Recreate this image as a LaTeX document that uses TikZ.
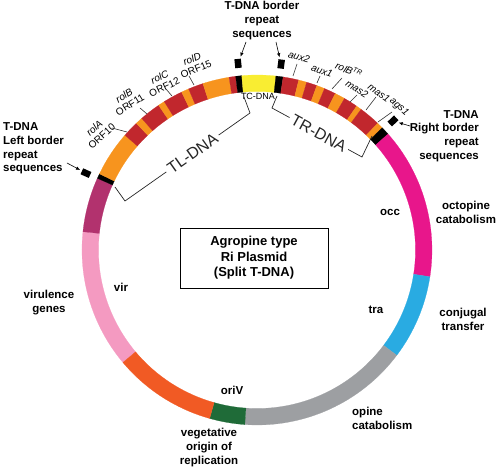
\documentclass[tikz,border=0pt]{standalone}
\usepackage{fontspec}
\setmainfont{Liberation Sans}
\usepackage{tikz}
\usetikzlibrary{arrows.meta}

\definecolor{tlorange}{RGB}{247,148,30}
\definecolor{tlred}{RGB}{193,39,45}
\definecolor{tcyellow}{RGB}{249,237,50}
\definecolor{occpink}{RGB}{232,22,139}
\definecolor{trablue}{RGB}{41,171,226}
\definecolor{opgray}{RGB}{157,159,162}
\definecolor{origreen}{RGB}{31,107,56}
\definecolor{vegorange}{RGB}{241,90,36}
\definecolor{virpink}{RGB}{244,154,193}
\definecolor{lbpurple}{RGB}{178,50,110}

% one coloured piece of the ring, from angle #2 to angle #3
\newcommand{\ringpart}[3]{%
  \fill[#1, draw=#1, line width=0.2pt] (#2:175pt) arc[start angle=#2, end angle=#3, radius=175pt]
    -- (#3:158.5pt) arc[start angle=#3, end angle=#2, radius=158.5pt] -- cycle;}

\begin{document}
\begin{tikzpicture}[x=1pt,y=1pt]
   \tikzstyle{note}=[font=\fontsize{11.5}{13.8}\selectfont\bfseries, inner sep=0pt]
   \tikzstyle{gene}=[font=\fontsize{10}{11}\selectfont, align=center, inner sep=0pt]
   \tikzstyle{borderbox}=[fill=black, minimum width=6.5pt, minimum height=9pt, inner sep=0pt]
   \tikzstyle{leader}=[line width=0.6pt, black!80]
   \tikzstyle{pointer}=[line width=0.6pt, -{Latex[length=4pt, width=3.5pt]}, shorten >=2pt]
   \tikzstyle{bracket}=[line width=0.7pt, black!85]
   \tikzstyle{region}=[sloped, fill=white, inner sep=3pt, font=\fontsize{16}{18}\selectfont]

   \useasboundingbox (-257,-218) rectangle (239,250);

   % the ring
   \ringpart{virpink}{-140}{-186}
   \ringpart{lbpurple}{174}{155.8}
   \ringpart{black}{155.8}{154.2}
   \ringpart{tlorange}{154.2}{139}
   \ringpart{tlred}{139}{133.6}
   \ringpart{tlorange}{133.6}{131.2}
   \ringpart{tlred}{131.2}{124.2}
   \ringpart{tlorange}{124.2}{122}
   \ringpart{tlred}{122}{115.5}
   \ringpart{tlorange}{115.5}{113}
   \ringpart{tlred}{113}{108}
   \ringpart{tlorange}{108}{99.2}
   \ringpart{tlred}{99.2}{97}
   \ringpart{black}{97}{95}
   \ringpart{tcyellow}{95}{83.8}
   \ringpart{black}{83.8}{81.4}
   \ringpart{tlred}{81.4}{76.2}
   \ringpart{tlorange}{76.2}{73.5}
   \ringpart{tlred}{73.5}{70}
   \ringpart{tlorange}{70}{67.3}
   \ringpart{tlred}{67.3}{63.4}
   \ringpart{tlorange}{63.4}{60}
   \ringpart{tlred}{60}{55.3}
   \ringpart{tlorange}{55.3}{53.5}
   \ringpart{tlred}{53.5}{46.4}
   \ringpart{tlorange}{46.4}{44.3}
   \ringpart{black}{44.3}{41.5}
   \ringpart{occpink}{41.5}{-8.8}
   \ringpart{trablue}{-8.8}{-37}
   \ringpart{opgray}{-37}{-94}
   \ringpart{origreen}{-94}{-105.7}
   \ringpart{vegorange}{-105.7}{-140}

   % border repeats
   \node[borderbox, rotate=65.8] (bord l) at (155.8:187.5pt) {};
   \node[borderbox, rotate=5.8] (bord tl) at (95.8:187.5pt) {};
   \node[borderbox, rotate=-7.4] (bord tr) at (82.6:187.5pt) {};
   \node[borderbox, rotate=-46.5] (bord r) at (43.5:187.5pt) {};

   \node[note, align=center] (top note) at (5,229.5) {T-DNA border\\repeat\\sequences};
   \node[note, align=left, anchor=west] (left note) at (-254,101.5) {T-DNA\\Left border\\repeat\\sequences};
   \node[note, align=right, anchor=east] (right note) at (222,114) {T-DNA\\Right border\\repeat\\sequences};

   \coordinate (top l) at (-11,208);
   \coordinate (top r) at (19,208);
   \coordinate (left p) at (-190,87);
   \coordinate (right p) at (153,124);
   \draw[pointer] (top l) -- (bord tl);
   \draw[pointer] (top r) -- (bord tr);
   \draw[pointer] (left p) -- (bord l);
   \draw[pointer] (right p) -- (bord r);

   % genes of the T-DNA
   \node[gene, rotate=42] (rolA) at (-159,118) {\textit{rolA}\\ORF10};
   \node[gene, rotate=32] (rolB) at (-130,150) {\textit{rolB}\\ORF11};
   \node[gene, rotate=25] (rolC) at (-95,168) {\textit{rolC}\\ORF12};
   \node[gene, rotate=22] (rolD) at (-63,186) {\textit{rolD}\\ORF15};
   \node[gene, rotate=-17] (aux2) at (42,193) {\textit{aux2}};
   \node[gene, rotate=-20] (aux1) at (65,179) {\textit{aux1}};
   \node[gene, rotate=-22] (rolBTR) at (92,180) {\textit{rolB}\textsuperscript{\textit{TR}}};
   \node[gene, rotate=-33] (mas2) at (100,161) {\textit{mas2}};
   \node[gene, rotate=-36] (mas1) at (122,157) {\textit{mas1}};
   \node[gene, rotate=-42] (ags1) at (142,143) {\textit{ags1}};

   \coordinate (rolA r) at (-130,118);  \coordinate (rolA t) at (-145,122);
   \coordinate (rolB r) at (-110,136);  \coordinate (rolB t) at (-117,142);
   \coordinate (rolC r) at (-85,154);   \coordinate (rolC t) at (-91,161);
   \coordinate (rolD r) at (-63,165);   \coordinate (rolD t) at (-68,174);
   \coordinate (aux2 r) at (36,174);    \coordinate (aux2 t) at (40,186);
   \coordinate (aux1 r) at (60,167);    \coordinate (aux1 t) at (63,174);
   \coordinate (rolBTR r) at (75,161);  \coordinate (rolBTR t) at (85,172);
   \coordinate (mas2 r) at (93,148);    \coordinate (mas2 t) at (100,155);
   \coordinate (mas1 r) at (109,140);   \coordinate (mas1 t) at (119,153);
   \coordinate (ags1 r) at (121,128);   \coordinate (ags1 t) at (135,138);
   \draw[leader] (rolA r) -- (rolA t);
   \draw[leader] (rolB r) -- (rolB t);
   \draw[leader] (rolC r) -- (rolC t);
   \draw[leader] (rolD r) -- (rolD t);
   \draw[leader] (aux2 r) -- (aux2 t);
   \draw[leader] (aux1 r) -- (aux1 t);
   \draw[leader] (rolBTR r) -- (rolBTR t);
   \draw[leader] (mas2 r) -- (mas2 t);
   \draw[leader] (mas1 r) -- (mas1 t);
   \draw[leader] (ags1 r) -- (ags1 t);

   \node[font=\fontsize{9}{10}\selectfont, inner sep=0pt] (tc) at (1,153.5) {TC-DNA};

   % TL and TR brackets
   \coordinate (tl a) at (-142,63);
   \coordinate (tl b) at (-132,49);
   \coordinate (tl c) at (-7,137);
   \coordinate (tl d) at (-13,153);
   \draw[bracket] (tl a) -- (tl b) -- node[region, pos=0.54] (tl dna) {TL-DNA} (tl c) -- (tl d);
   \coordinate (tr a) at (20,154);
   \coordinate (tr b) at (15,142);
   \coordinate (tr c) at (105,93);
   \coordinate (tr d) at (115,114);
   \draw[bracket] (tr a) -- (tr b) -- node[region, pos=0.52] (tr dna) {TR-DNA} (tr c) -- (tr d);

   % other regions
   \node[note] (occ) at (133,38) {occ};
   \node[note, align=center] (occ note) at (209,37.5) {octopine\\catabolism};
   \node[note] (tra) at (119,-60) {tra};
   \node[note, align=center] (tra note) at (206,-69) {conjugal\\transfer};
   \node[note, align=left, anchor=west] (opine note) at (95,-168.5) {opine\\catabolism};
   \node[note] (oriV) at (-25,-140) {oriV};
   \node[note, align=center] (ori note) at (-48,-197.5) {vegetative\\origin of\\replication};
   \node[note] (vir) at (-136,-37) {vir};
   \node[note, align=center] (vir note) at (-208,-52.5) {virulence\\genes};

   \node[draw, line width=0.8pt, minimum width=148pt, minimum height=60pt, align=center,
         font=\fontsize{13}{15.5}\selectfont\bfseries] (plasmid) at (-3,-8) {Agropine type\\Ri Plasmid\\(Split T-DNA)};
\end{tikzpicture}
\end{document}
